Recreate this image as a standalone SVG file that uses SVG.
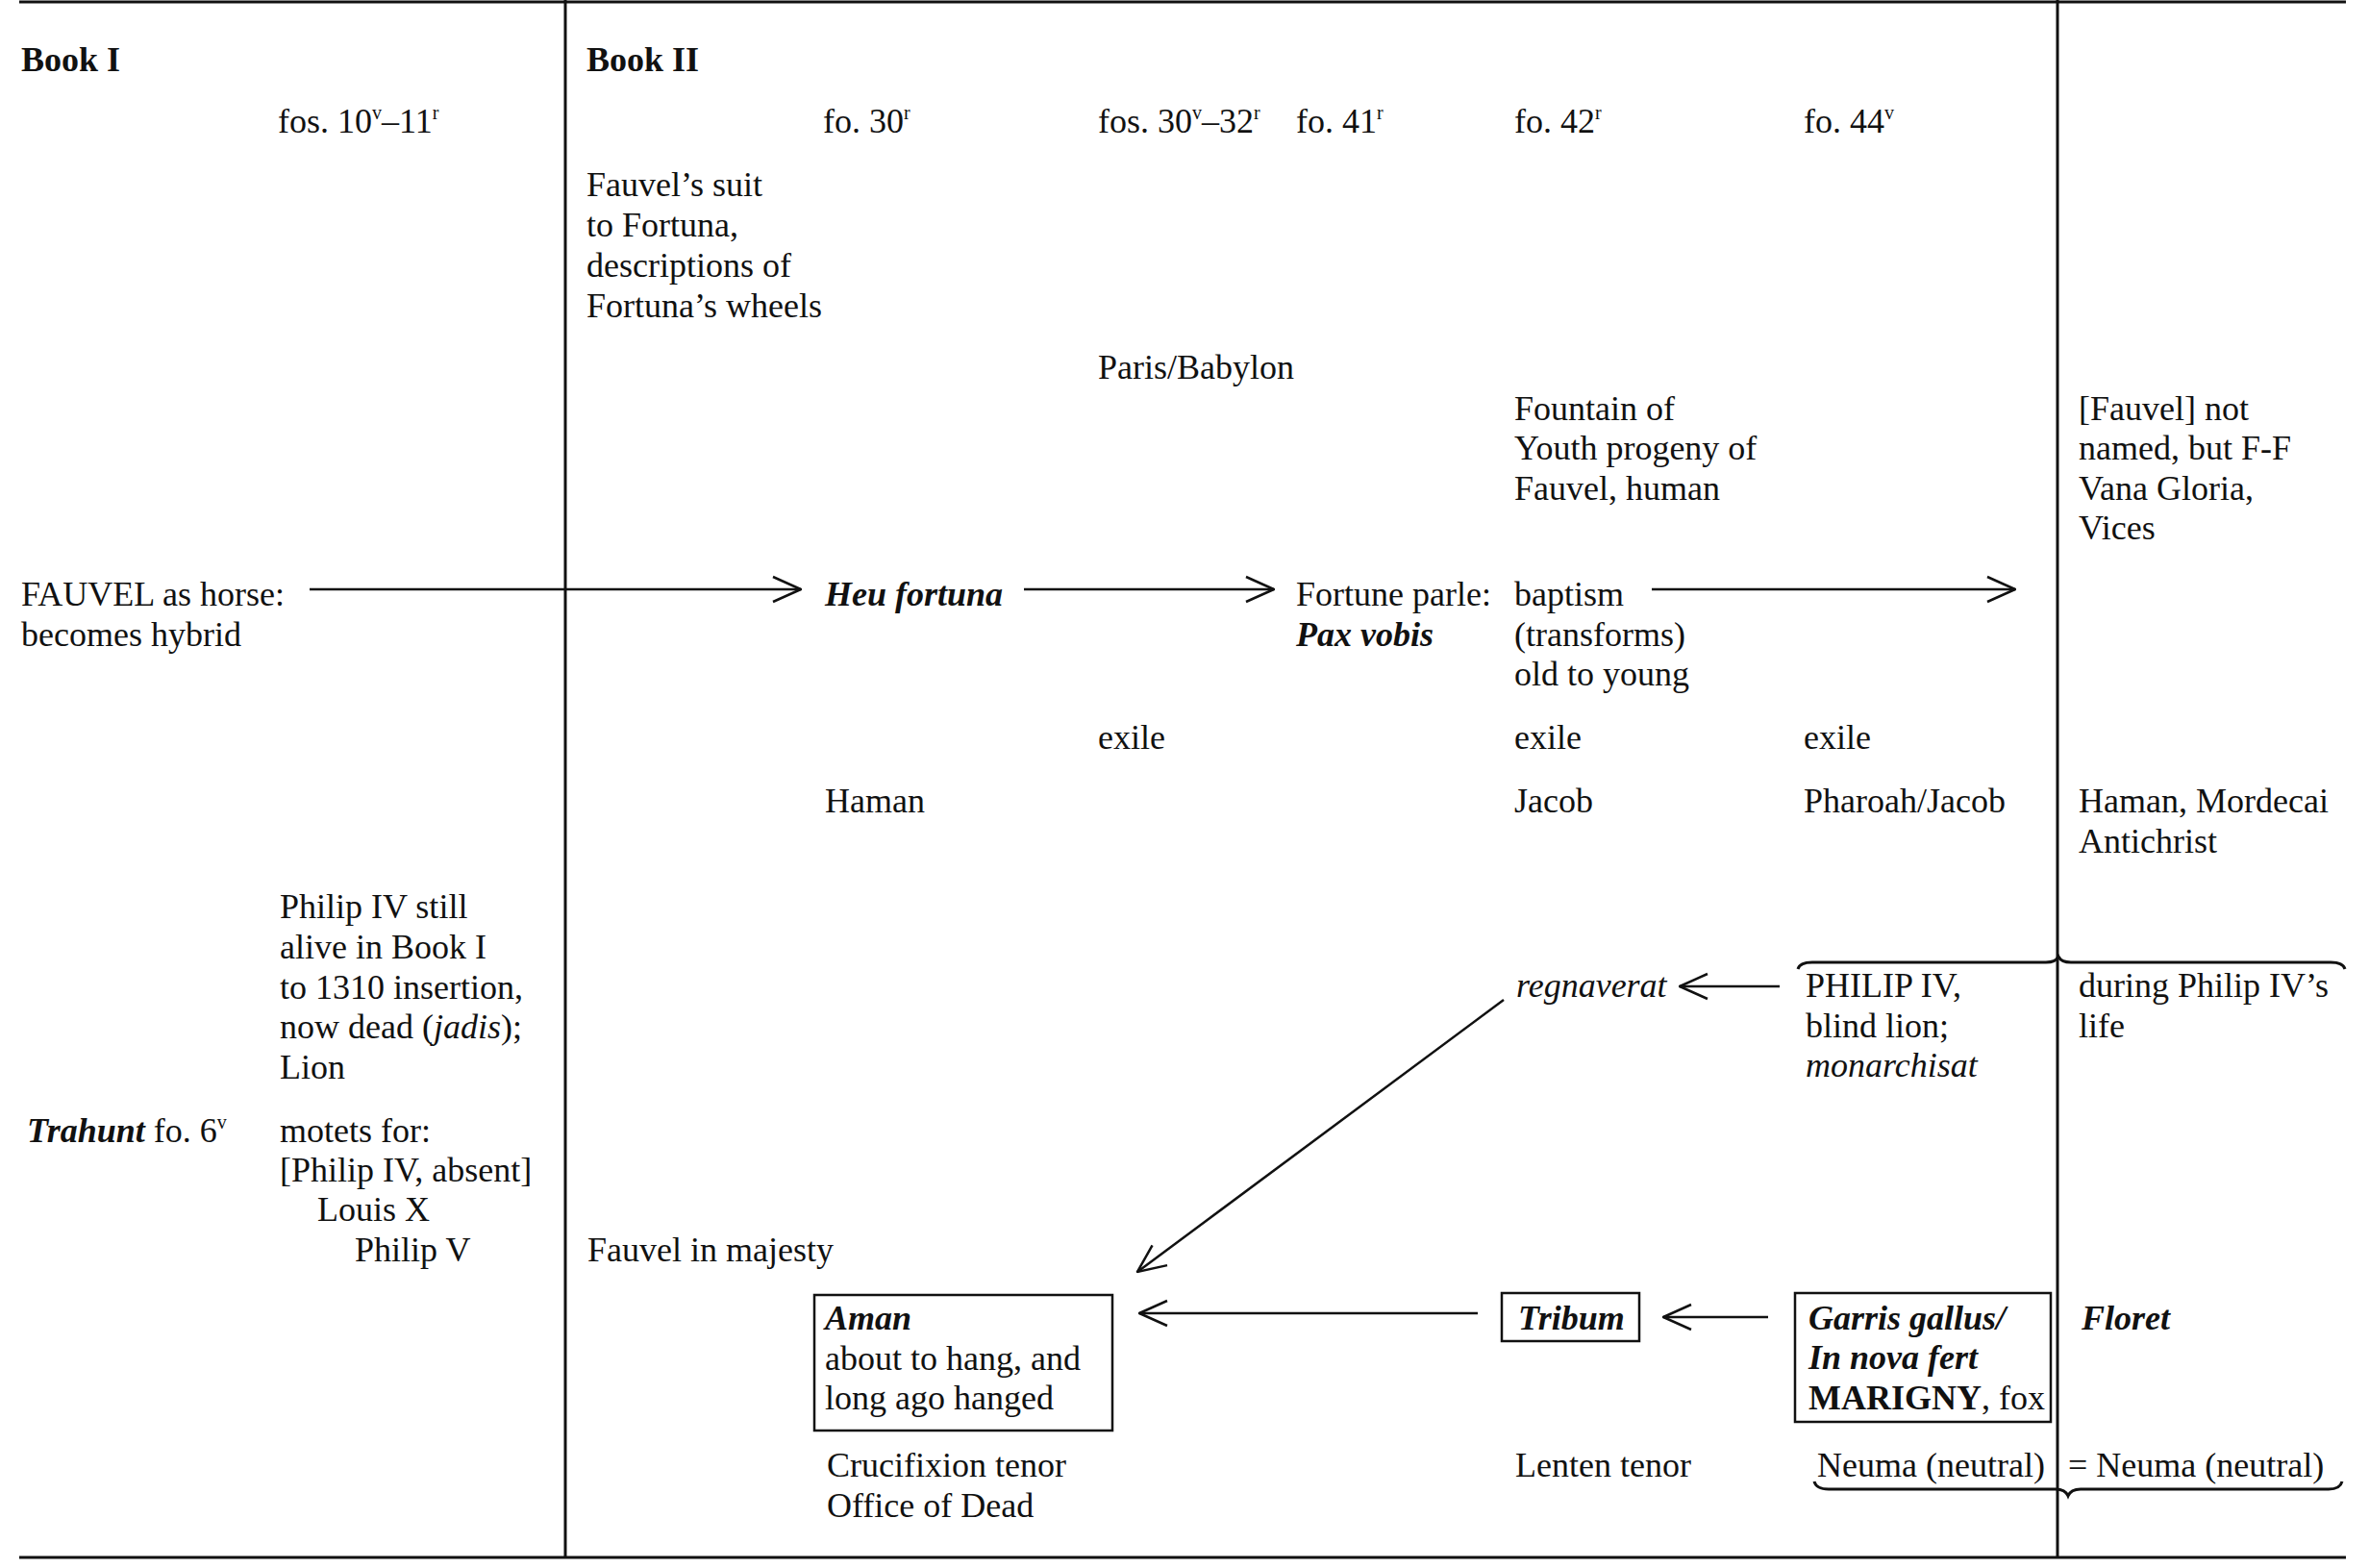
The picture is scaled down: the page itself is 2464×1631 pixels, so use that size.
<svg xmlns="http://www.w3.org/2000/svg" width="2464" height="1631" viewBox="0 0 2464 1631">
<style>
text{font-family:"Liberation Serif","Times New Roman",serif;font-size:36px;fill:#111}
.b{font-weight:bold}
.i{font-style:italic}
.bi{font-weight:bold;font-style:italic}
.sup{font-size:20px}
.rule{stroke:#111;fill:none;stroke-width:3}
.arw{stroke:#111;fill:none;stroke-width:2.5}
.box{stroke:#111;fill:none;stroke-width:2.5}
</style>
<defs>
<marker id="ah" viewBox="0 0 32 30" refX="31" refY="15" markerWidth="32" markerHeight="30" markerUnits="userSpaceOnUse" orient="auto">
<path d="M2,2 L31,15 L2,28" fill="none" stroke="#111" stroke-width="2.5"/>
</marker>
</defs>
<rect width="2464" height="1631" fill="#fff"/>
<g id="frame">
<line class="rule" x1="20" y1="2" x2="2440" y2="2"/>
<line class="rule" x1="20" y1="1620" x2="2440" y2="1620"/>
<line class="rule" x1="588" y1="0" x2="588" y2="1620" stroke-width="2.5"/>
<line class="rule" x1="2140" y1="0" x2="2140" y2="1620"/>
<path class="rule" d="M1870,1008 Q1872,1001 1885,1001 L2128,1001 Q2138,1001 2141,995 Q2144,1001 2154,1001 L2424,1001 Q2437,1001 2439,1008" stroke-width="2.5"/>
<path class="rule" d="M1887,1541 Q1889,1549 1902,1549 L2138,1549 Q2148,1549 2151,1556 Q2154,1549 2164,1549 L2422,1549 Q2434,1549 2436,1541" stroke-width="2.5"/>
</g>
<g id="headers">
<text class="b" x="22" y="74">Book I</text>
<text class="b" x="610" y="74">Book II</text>
<text x="289" y="138">fos. 10<tspan class="sup" dy="-14">v</tspan><tspan dy="14">–11</tspan><tspan class="sup" dy="-14">r</tspan></text>
<text x="856" y="138">fo. 30<tspan class="sup" dy="-14">r</tspan></text>
<text x="1142" y="138">fos. 30<tspan class="sup" dy="-14">v</tspan><tspan dy="14">–32</tspan><tspan class="sup" dy="-14">r</tspan></text>
<text x="1348" y="138">fo. 41<tspan class="sup" dy="-14">r</tspan></text>
<text x="1575" y="138">fo. 42<tspan class="sup" dy="-14">r</tspan></text>
<text x="1876" y="138">fo. 44<tspan class="sup" dy="-14">v</tspan></text>
</g>
<g id="suit">
<text x="610" y="204">Fauvel’s suit</text>
<text x="610" y="246">to Fortuna,</text>
<text x="610" y="288">descriptions of</text>
<text x="610" y="330">Fortuna’s wheels</text>
</g>
<g id="paris"><text x="1142" y="394">Paris/Babylon</text></g>
<g id="fountain">
<text x="1575" y="437">Fountain of</text>
<text x="1575" y="478">Youth progeny of</text>
<text x="1575" y="520">Fauvel, human</text>
</g>
<g id="vices">
<text x="2162" y="437">[Fauvel] not</text>
<text x="2162" y="478">named, but F-F</text>
<text x="2162" y="520">Vana Gloria,</text>
<text x="2162" y="561">Vices</text>
</g>
<g id="fauvel-horse">
<text x="22" y="630">FAUVEL as horse:</text>
<text x="22" y="672">becomes hybrid</text>
</g>
<g id="heu"><text class="bi" x="858" y="630">Heu fortuna</text></g>
<g id="fortune">
<text x="1348" y="630">Fortune parle:</text>
<text class="bi" x="1348" y="672">Pax vobis</text>
</g>
<g id="baptism">
<text x="1575" y="630">baptism</text>
<text x="1575" y="672">(transforms)</text>
<text x="1575" y="713">old to young</text>
</g>
<g id="exile1"><text x="1142" y="779">exile</text></g>
<g id="exile2"><text x="1575" y="779">exile</text></g>
<g id="exile3"><text x="1876" y="779">exile</text></g>
<g id="haman"><text x="858" y="845">Haman</text></g>
<g id="jacob"><text x="1575" y="845">Jacob</text></g>
<g id="pharoah"><text x="1876" y="845">Pharoah/Jacob</text></g>
<g id="mordecai">
<text x="2162" y="845">Haman, Mordecai</text>
<text x="2162" y="887">Antichrist</text>
</g>
<g id="philip-still">
<text x="291" y="955">Philip IV still</text>
<text x="291" y="997">alive in Book I</text>
<text x="291" y="1039">to 1310 insertion,</text>
<text x="291" y="1080">now dead (<tspan class="i">jadis</tspan>);</text>
<text x="291" y="1122">Lion</text>
</g>
<g id="trahunt"><text x="28" y="1188"><tspan class="bi">Trahunt</tspan> fo. 6<tspan class="sup" dy="-14">v</tspan></text></g>
<g id="motets">
<text x="291" y="1188">motets for:</text>
<text x="291" y="1229">[Philip IV, absent]</text>
<text x="330" y="1270">Louis X</text>
<text x="369" y="1312">Philip V</text>
</g>
<g id="regnaverat"><text class="i" x="1577" y="1037">regnaverat</text></g>
<g id="philip-lion">
<text x="1878" y="1037">PHILIP IV,</text>
<text x="1878" y="1079">blind lion;</text>
<text class="i" x="1878" y="1120">monarchisat</text>
</g>
<g id="during">
<text x="2162" y="1037">during Philip IV’s</text>
<text x="2162" y="1079">life</text>
</g>
<g id="majesty"><text x="611" y="1312">Fauvel in majesty</text></g>
<g id="aman">
<rect class="box" x="847" y="1347" width="310" height="141"/>
<text class="bi" x="858" y="1383">Aman</text>
<text x="858" y="1425">about to hang, and</text>
<text x="858" y="1466">long ago hanged</text>
</g>
<g id="tribum">
<rect class="box" x="1562" y="1345" width="143" height="50"/>
<text class="bi" x="1579" y="1383">Tribum</text>
</g>
<g id="garris">
<rect class="box" x="1867" y="1345" width="266" height="134"/>
<text class="bi" x="1881" y="1383">Garris gallus/</text>
<text class="bi" x="1881" y="1424">In nova fert</text>
<text x="1881" y="1466"><tspan class="b">MARIGNY</tspan>, fox</text>
</g>
<g id="floret"><text class="bi" x="2165" y="1383">Floret</text></g>
<g id="crucifixion">
<text x="860" y="1536">Crucifixion tenor</text>
<text x="860" y="1578">Office of Dead</text>
</g>
<g id="lenten"><text x="1576" y="1536">Lenten tenor</text></g>
<g id="neuma1"><text x="1890" y="1536">Neuma (neutral)</text></g>
<g id="neuma2"><text x="2151" y="1536">= Neuma (neutral)</text></g>
<g id="connectors">
<line class="arw" x1="322" y1="613" x2="833" y2="613" marker-end="url(#ah)" stroke-width="3"/>
<line class="arw" x1="1065" y1="613" x2="1325" y2="613" marker-end="url(#ah)"/>
<line class="arw" x1="1718" y1="613" x2="2096" y2="613" marker-end="url(#ah)"/>
<line class="arw" x1="1851" y1="1026" x2="1747" y2="1026" marker-end="url(#ah)"/>
<line class="arw" x1="1564" y1="1040" x2="1183" y2="1323" marker-end="url(#ah)"/>
<line class="arw" x1="1537" y1="1366" x2="1185" y2="1366" marker-end="url(#ah)" stroke-width="2"/>
<line class="arw" x1="1839" y1="1370" x2="1730" y2="1370" marker-end="url(#ah)" stroke-width="3"/>
</g>
</svg>
